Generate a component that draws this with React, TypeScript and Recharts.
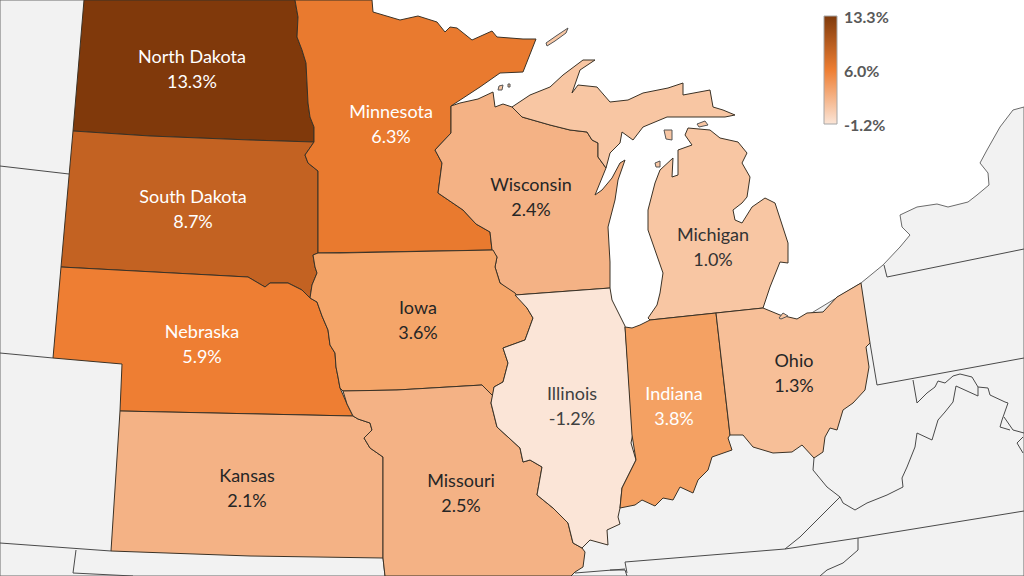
import { ScatterChart, Scatter, XAxis, YAxis } from 'recharts'

// outlines are in map units, the scales turn them into pixels
const northDakota = [[84,0],[295,0],[298,17],[297,37],[302,50],[306,63],[307,83],[308,103],[310,117],[314,127],[314,142],[250,140],[150,136],[73,131]]
const southDakota = [[73,131],[150,136],[250,140],[314,142],[305,155],[308,163],[318,171],[318,253],[313,255],[315,267],[317,273],[312,285],[310,298],[302,290],[288,283],[270,283],[265,287],[248,277],[61,267]]
const nebraska = [[61,267],[248,277],[265,287],[270,283],[288,283],[302,290],[310,298],[317,302],[322,316],[328,330],[330,345],[335,353],[336,367],[338,377],[340,388],[347,404],[353,416],[120,411],[122,364],[53,358]]
const kansas = [[120,411],[353,416],[358,419],[370,423],[372,430],[364,438],[370,448],[383,457],[383,558],[250,556],[111,551]]
const minnesota = [[295,0],[372,0],[373,12],[400,20],[418,16],[437,22],[445,32],[450,27],[457,28],[472,40],[492,31],[497,37],[523,39],[536,39],[523,72],[500,73],[480,87],[451,106],[451,133],[435,150],[442,163],[438,193],[463,210],[476,224],[490,232],[492,250],[318,253],[318,171],[308,163],[305,155],[314,142],[314,127],[310,117],[308,103],[307,83],[306,63],[302,50],[297,37],[298,17]]
const wisconsin = [[451,106],[460,103],[478,99],[493,92],[495,107],[503,104],[512,107],[522,117],[550,125],[570,130],[587,132],[592,140],[598,143],[598,157],[606,168],[595,195],[602,190],[612,178],[620,163],[625,160],[618,180],[615,200],[608,227],[610,262],[610,288],[515,295],[500,283],[495,267],[497,257],[492,250],[490,232],[476,224],[463,210],[438,193],[442,163],[435,150],[451,133]]
const upperMichigan = [[512,107],[530,95],[550,87],[563,75],[583,60],[595,60],[580,70],[572,93],[578,85],[597,87],[610,102],[628,100],[643,93],[668,88],[683,83],[683,95],[710,90],[713,107],[723,110],[735,115],[725,117],[697,117],[680,117],[667,117],[643,127],[633,140],[622,132],[620,143],[610,153],[606,168],[598,157],[598,143],[592,140],[587,132],[570,130],[550,125],[522,117]]
const lowerMichigan = [[688,128],[710,130],[720,138],[738,142],[747,153],[742,163],[750,177],[747,197],[742,203],[733,210],[735,220],[742,223],[752,207],[765,198],[775,203],[788,243],[788,263],[780,262],[770,287],[763,308],[716,313],[650,320],[648,318],[657,305],[660,293],[663,273],[648,230],[648,210],[655,183],[660,170],[673,158],[672,177],[678,175],[678,150],[692,145],[685,135]]
const iowa = [[318,253],[340,253],[493,250],[497,257],[495,267],[500,283],[515,293],[527,308],[533,318],[525,340],[503,348],[508,363],[503,382],[494,387],[493,396],[482,385],[397,390],[343,391],[340,388],[338,377],[336,367],[335,353],[330,345],[328,330],[322,316],[317,302],[310,298],[312,285],[317,273],[315,267],[313,255]]
const missouri = [[343,391],[397,390],[482,385],[493,396],[491,403],[497,427],[520,448],[523,462],[530,460],[542,467],[537,495],[553,508],[568,523],[573,543],[582,548],[585,552],[583,567],[575,572],[571,576],[385,576],[383,558],[383,457],[370,448],[364,438],[372,430],[370,423],[358,419],[353,416],[347,404]]
const illinois = [[515,295],[610,288],[612,300],[625,326],[633,433],[631,443],[636,460],[622,488],[620,508],[618,517],[620,524],[607,530],[608,545],[590,540],[582,548],[573,543],[568,523],[553,508],[537,495],[542,467],[530,460],[523,462],[520,448],[497,427],[491,403],[494,387],[503,382],[508,363],[503,348],[525,340],[533,318],[527,308]]
const indiana = [[625,327],[632,328],[640,325],[650,320],[716,313],[730,435],[728,438],[732,450],[712,457],[708,470],[698,480],[693,493],[680,487],[673,500],[663,498],[655,506],[642,500],[635,505],[620,508],[622,488],[636,460],[632,435]]
const ohio = [[716,313],[763,308],[780,315],[797,319],[807,313],[823,312],[837,297],[861,283],[870,343],[866,347],[869,367],[865,390],[853,403],[843,410],[837,430],[830,428],[825,437],[823,452],[814,458],[802,445],[792,452],[773,453],[753,447],[743,435],[730,435]]

const stateOutlines = [northDakota, southDakota, nebraska, kansas, minnesota, wisconsin, upperMichigan, lowerMichigan, iowa, missouri, illinois, indiana, ohio]
const stateNames = ['North Dakota', 'South Dakota', 'Nebraska', 'Kansas', 'Minnesota', 'Wisconsin', '', 'Michigan', 'Iowa', 'Missouri', 'Illinois', 'Indiana', 'Ohio']
const stateValues = [13.3, 8.7, 5.9, 2.1, 6.3, 2.4, 1.0, 1.0, 3.6, 2.5, -1.2, 3.8, 1.3]
const stateFills = ['#80390b', '#c36222', '#ee7e33', '#f4b285', '#e97a2f', '#f4b285', '#f8c6a3', '#f8c6a3', '#f4a569', '#f4b285', '#fbe5d7', '#f4a163', '#f7bf98']
const stateInk = ['#ffffff', '#ffffff', '#ffffff', '#262626', '#ffffff', '#262626', '', '#333333', '#262626', '#262626', '#404040', '#ffffff', '#262626']
const labelX = [192, 193, 202, 247, 391, 531, 0, 713, 418, 461, 572, 674, 794]
const labelY = [69, 209, 344, 488, 124, 197, 0, 247, 320, 493, 406, 406, 373]

// neighbouring land with no data
const otherLand = [[1024,107],[1013,110],[1000,127],[987,150],[980,163],[988,173],[989,185],[977,195],[968,202],[948,207],[937,204],[917,207],[900,215],[902,227],[910,235],[900,247],[883,265],[861,283],[800,320],[700,340],[520,340],[100,300],[100,0],[0,0],[0,576],[1024,576]]
const borderLines = [
  [[0,166],[69,174]],
  [[0,353],[53,358]],
  [[0,543],[111,551]],
  [[76,550],[73,573],[133,576]],
  [[383,558],[385,576]],
  [[884,265],[887,277],[1024,249]],
  [[870,343],[877,385],[1024,358]],
  [[913,380],[917,403],[927,393],[935,387],[938,381],[945,383],[953,376],[960,374],[972,377],[978,387],[988,388],[990,395],[1005,402],[1008,403],[1002,420],[1000,427],[1010,430]],
  [[956,386],[978,396],[978,387]],
  [[956,386],[953,402],[945,412],[938,420],[932,440],[917,433],[915,447],[907,467],[902,478],[903,487],[887,495],[867,503],[855,510],[843,503],[840,497],[827,487],[813,470],[814,458]],
  [[840,497],[827,510],[810,527],[800,537],[785,549]],
  [[625,562],[785,549],[858,538],[1024,511]],
  [[858,538],[858,550],[843,563],[827,570],[820,576]],
  [[610,570],[625,570],[627,576]],
  [[575,573],[625,569]],
  [[625,562],[627,573]],
  [[1004,417],[1013,430],[1024,433]],
  [[1023,437],[1017,443],[1023,453]],
]
const islands = [
  [[546,43],[556,36],[568,28],[566,33],[555,41],[547,46]],
  [[664,130],[672,130],[672,140],[666,139]],
  [[655,163],[660,161],[660,167],[656,167]],
  [[783,313],[788,316],[781,319],[779,318]],
  [[705,121],[708,125],[699,127],[697,124]],
  [[499,86],[503,85],[502,90],[498,90]],
  [[508,84],[510,84],[510,87],[508,87]],
]

const rampOutline = [[824,16],[837,16],[837,124],[824,124]]
const rampTicks = ['13.3%', '6.0%', '-1.2%']
const rampTickY = [17, 71, 125]
const rampColors = ['#7f3a0c', '#ee7e33', '#fbe5d7']

const FONT = 'Lato, "Open Sans", sans-serif'
const toPoints = (outline: number[][]) => outline.map(([x, y]) => ({ x, y }))
const noDot = () => <g />

const area = (fill: string, stroke: string) => (props: any) => (
  <polygon
    points={props.points.map((p: any) => `${p.x},${p.y}`).join(' ')}
    fill={fill}
    stroke={stroke}
    strokeWidth={1}
    strokeLinejoin="round"
  />
)
const stroke = () => (props: any) => (
  <polyline
    points={props.points.map((p: any) => `${p.x},${p.y}`).join(' ')}
    fill="none"
    stroke="#4a4a4a"
    strokeWidth={1}
    strokeLinejoin="round"
  />
)

const labelData = stateNames
  .map((name, i) => ({ x: labelX[i], y: labelY[i], name, value: stateValues[i], ink: stateInk[i] }))
  .filter((d) => d.name)
const rampData = rampTicks.map((tick, i) => ({ x: 844, y: rampTickY[i], tick }))

const StateLabel = ({ cx, cy, payload }: any) => (
  <text x={cx} textAnchor="middle" fontFamily={FONT} fontSize={18} fill={payload.ink}>
    <tspan x={cx} y={cy - 6}>{payload.name}</tspan>
    <tspan x={cx} y={cy + 19}>{payload.value.toFixed(1)}%</tspan>
  </text>
)
const RampLabel = ({ cx, cy, payload }: any) => (
  <text x={cx} y={cy + 5.5} fontFamily={FONT} fontSize={16} fontWeight={700} fill="#595959">
    {payload.tick}
  </text>
)

export default function App() {
  return (
    <div style={{ position: 'absolute', left: 0, top: 0, width: 1024, height: 576, background: '#fff' }}>
      <ScatterChart width={1024} height={576} margin={{ top: 0, right: 0, bottom: 0, left: 0 }}>
        <defs>
          <linearGradient id="ramp" x1="0" y1="0" x2="0" y2="1">
            {rampColors.map((c, i) => (
              <stop key={c} offset={`${i * 50}%`} stopColor={c} />
            ))}
          </linearGradient>
        </defs>
        <XAxis type="number" dataKey="x" domain={[0, 1024]} hide />
        <YAxis type="number" dataKey="y" domain={[0, 576]} reversed hide />
        <Scatter data={toPoints(otherLand)} shape={noDot} line={area('#f2f2f2', '#6b6b6b')} isAnimationActive={false} />
        {borderLines.map((line, i) => (
          <Scatter key={`b${i}`} data={toPoints(line)} shape={noDot} line={stroke()} isAnimationActive={false} />
        ))}
        {stateOutlines.map((outline, i) => (
          <Scatter key={`s${i}`} data={toPoints(outline)} shape={noDot} line={area(stateFills[i], '#3b3226')} isAnimationActive={false} />
        ))}
        {islands.map((island, i) => (
          <Scatter key={`i${i}`} data={toPoints(island)} shape={noDot} line={area('#f8c6a3', '#555555')} isAnimationActive={false} />
        ))}
        <Scatter data={toPoints(rampOutline)} shape={noDot} line={area('url(#ramp)', '#a6a6a6')} isAnimationActive={false} />
        <Scatter data={labelData} shape={StateLabel} isAnimationActive={false} />
        <Scatter data={rampData} shape={RampLabel} isAnimationActive={false} />
      </ScatterChart>
    </div>
  )
}
